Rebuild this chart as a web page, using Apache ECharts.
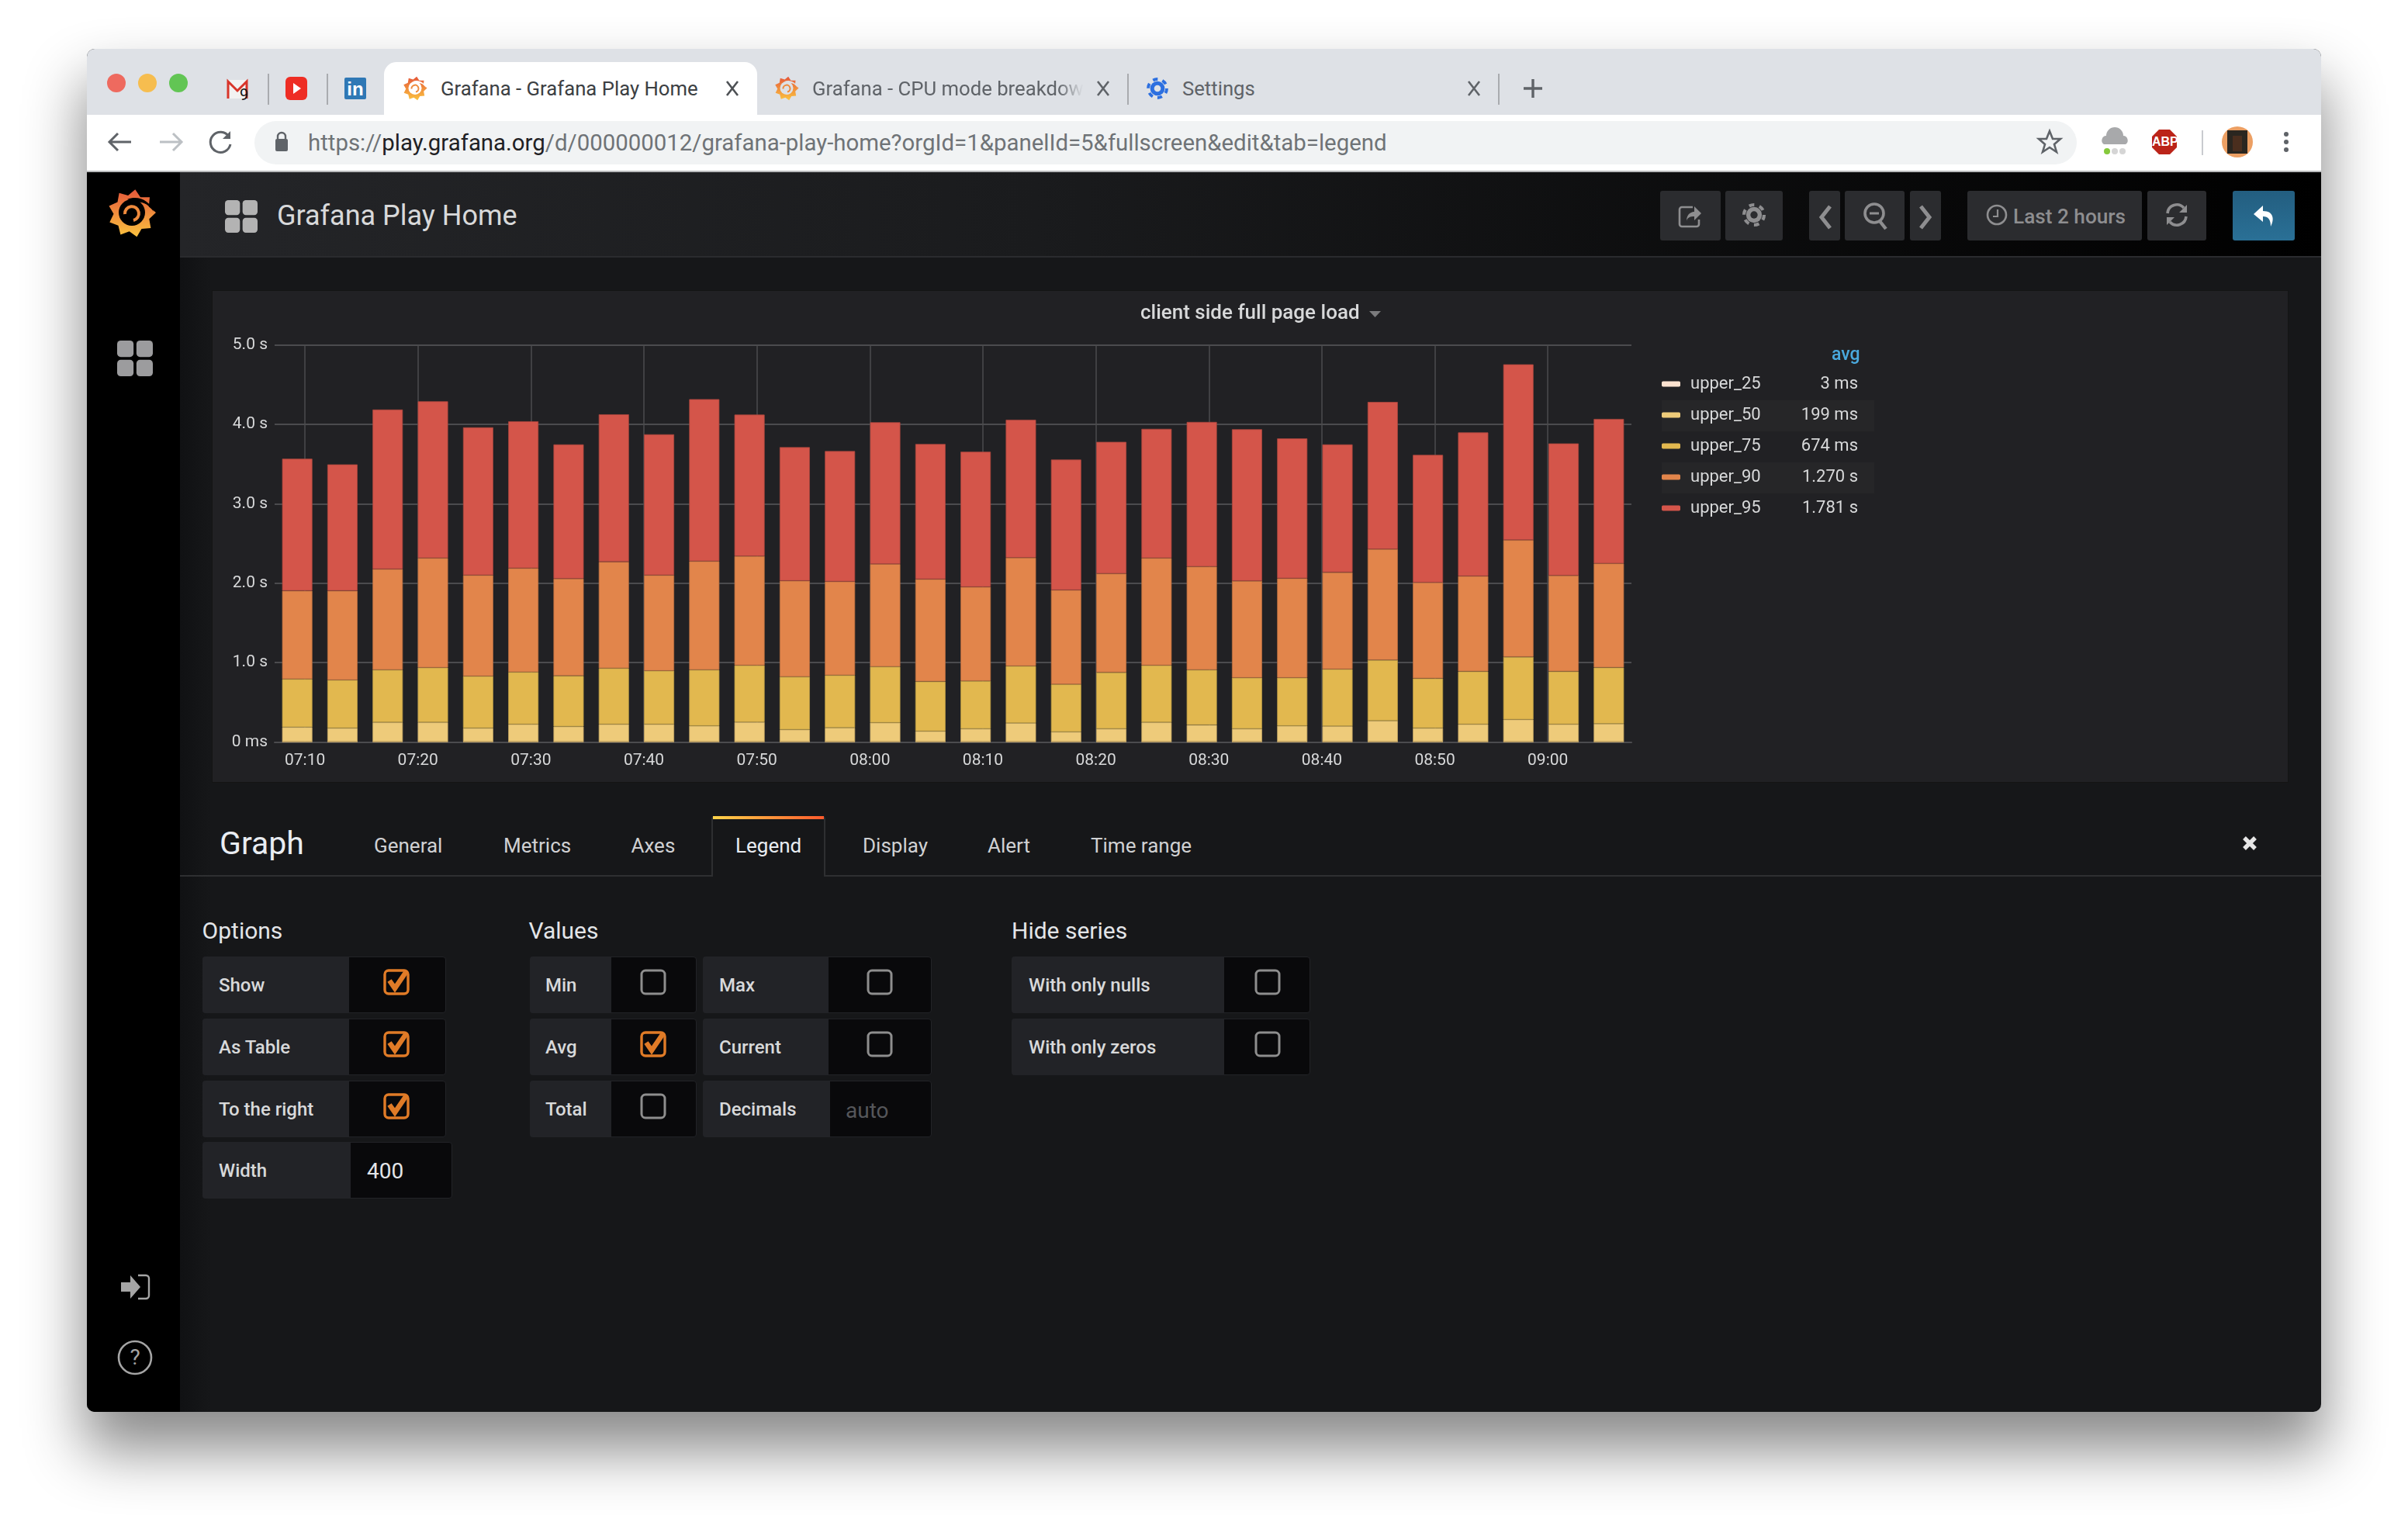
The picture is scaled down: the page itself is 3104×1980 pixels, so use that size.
<!DOCTYPE html>
<html>
<head>
<meta charset="utf-8">
<title>Grafana - Grafana Play Home</title>
<script src="https://cdn.jsdelivr.net/npm/echarts@6/dist/echarts.min.js"></script>
<style>
html,body{margin:0;padding:0;background:#fff;width:3104px;height:1980px;overflow:hidden;}
#page{position:absolute;left:0;top:0;width:3104px;height:1980px;font-family:Roboto,"Noto Sans",sans-serif;}
#page div{box-sizing:border-box;white-space:nowrap;}
svg{display:block;overflow:visible;}
</style>
</head>
<body>
<div id="page"></div>
<script>
// bar slots, one every 4 minutes
var barTimes = ['07:09','07:13','07:17','07:21','07:25','07:29','07:33','07:37','07:41','07:45',
    '07:49','07:53','07:57','08:01','08:05','08:09','08:13','08:17','08:21','08:25',
    '08:29','08:33','08:37','08:41','08:45','08:49','08:53','08:57','09:01','09:05'];
var upper25 = [.003,.003,.004,.004,.003,.003,.003,.003,.004,.003,.003,.003,.003,.003,.003,.003,.004,.003,.003,.003,.003,.003,.003,.003,.003,.003,.003,.003,.003,.003];
var upper50 = [.184,.172,.243,.243,.172,.220,.192,.220,.219,.200,.248,.153,.176,.240,.133,.164,.235,.125,.164,.244,.212,.164,.200,.196,.264,.172,.220,.280,.220,.227];
var upper75 = [.606,.606,.662,.690,.654,.658,.638,.706,.674,.706,.714,.666,.662,.706,.626,.602,.718,.598,.710,.718,.694,.642,.606,.718,.766,.626,.666,.789,.666,.708];
var upper90 = [1.112,1.124,1.268,1.380,1.272,1.308,1.224,1.340,1.204,1.368,1.376,1.208,1.180,1.292,1.288,1.184,1.364,1.188,1.244,1.352,1.300,1.220,1.252,1.220,1.396,1.208,1.200,1.471,1.208,1.311];
var upper95 = [1.663,1.591,2.010,1.974,1.862,1.850,1.691,1.858,1.774,2.041,1.782,1.683,1.643,1.786,1.703,1.703,1.738,1.643,1.659,1.627,1.822,1.910,1.762,1.611,1.854,1.607,1.810,2.213,1.663,1.820];

var seriesNames = ['upper_25','upper_50','upper_75','upper_90','upper_95'];
var seriesAvg = ['3 ms','199 ms','674 ms','1.270 s','1.781 s'];
var seriesColors = ['#fce2d0','#eecb7a','#e2b84f','#e2854b','#d4554a'];
var seriesEdges = ['#c9a86a','#c7a864','#b99a45','#b96f40','#a9463e'];
var xTickLabels = ['07:10','07:20','07:30','07:40','07:50','08:00','08:10','08:20','08:30','08:40','08:50','09:00'];
var yTickLabels = ['0 ms','1.0 s','2.0 s','3.0 s','4.0 s','5.0 s'];

var page = document.getElementById('page');

function add(x,y,w,h,css,html){
    var d = document.createElement('div');
    d.style.cssText = 'position:absolute;left:'+x+'px;top:'+y+'px;width:'+w+'px;height:'+h+'px;'+(css||'');
    if(html){ d.innerHTML = html; }
    page.appendChild(d);
    return d;
}
function text(x,cy,str,size,color,css){
    return add(x,cy-30,1400,60,'line-height:60px;font-size:'+size+'px;color:'+color+';'+(css||''),str);
}
// svg centered on cx,cy, content drawn around 0,0
function icon(cx,cy,body){
    return add(cx,cy,0,0,'','<svg width="1" height="1">'+body+'</svg>');
}
// hh:mm[:ss] to minutes of the day
function minutes(t){
    var p = t.split(':');
    return (+p[0])*60 + (+p[1]) + (p[2] ? (+p[2])/60 : 0);
}

var gradId = 0;
function logo(size,inner){
    var id = 'lg'+(gradId++), pts = [], i, a, r;
    for(i=0;i<18;i++){
        a = (i+.4)/18*Math.PI*2;
        r = i%2==0 ? 31 : 23.5;
        pts.push((Math.sin(a)*r).toFixed(1)+','+(-Math.cos(a)*r).toFixed(1));
    }
    return '<defs><linearGradient id="'+id+'" x1="0" y1="0" x2="0" y2="1"><stop offset="0" stop-color="#e5573a"/><stop offset="1" stop-color="#fbc33f"/></linearGradient></defs>'+
        '<g transform="scale('+(size/60)+')">'+
        '<polygon points="'+pts.join(' ')+'" fill="url(#'+id+')"/>'+
        '<circle cy="-1" r="17" fill="'+inner+'"/>'+
        '<path d="M-6 -18C8 -24 24 -16 28 -2C22 -12 12 -16 4 -14Z" fill="'+inner+'"/>'+
        '<path d="M-9 1A9 9 0 1 1 2 9" fill="none" stroke="#ee8a3c" stroke-width="4"/>'+
        '</g>';
}
function gear(r,c,hole){
    return '<circle r="'+r+'" fill="none" stroke="'+c+'" stroke-width="'+(r*.32)+'" stroke-dasharray="'+(r*.52)+' '+(r*.527)+'"/>'+
        '<circle r="'+(r*.78)+'" fill="'+c+'"/><circle r="'+(r*.36)+'" fill="'+hole+'"/>';
}
function grid4(s,c){
    var g = s*.04, w = s/2-g, r = s*.1;
    return '<rect x="'+(-s/2)+'" y="'+(-s/2)+'" width="'+w+'" height="'+w+'" rx="'+r+'" fill="'+c+'"/>'+
        '<rect x="'+g+'" y="'+(-s/2)+'" width="'+w+'" height="'+w+'" rx="'+r+'" fill="'+c+'"/>'+
        '<rect x="'+(-s/2)+'" y="'+g+'" width="'+w+'" height="'+w+'" rx="'+r+'" fill="'+c+'"/>'+
        '<rect x="'+g+'" y="'+g+'" width="'+w+'" height="'+w+'" rx="'+r+'" fill="'+c+'"/>';
}
function closeX(c){
    return '<path d="M-7 -9L7 9M7 -9L-7 9" stroke="'+c+'" stroke-width="2.6" fill="none"/>';
}

// window frame
add(112,63,2880,1757,'border-radius:10px;background:#161719;box-shadow:0 46px 76px 4px rgba(0,0,0,.46);');
add(112,63,2880,85,'background:#dee1e6;border-radius:10px 10px 0 0;');
add(112,148,2880,74,'background:#fff;border-bottom:2px solid #b8b9bb;');

// traffic lights
add(138,95,24,24,'border-radius:50%;background:#ee6a5f;');
add(178,95,24,24,'border-radius:50%;background:#f6bd4f;');
add(218,95,24,24,'border-radius:50%;background:#62c554;');

// pinned tabs
icon(306,114,'<rect x="-13" y="-11" width="26" height="24" fill="#f2f2f2"/><path d="M-12 13V-9L0 3L12 -9V13" fill="none" stroke="#d8352a" stroke-width="3"/>');
text(309,122,'9',20,'#111');
add(345,95,1.5,40,'background:#a9abaf;');
icon(382,114,'<rect x="-14" y="-15" width="28" height="30" rx="6" fill="#ee2d24"/><path d="M-4 -7L6 0L-4 7Z" fill="#fff"/>');
add(421,95,1.5,40,'background:#a9abaf;');
add(444,100,28,28,'background:#2f78b5;border-radius:2px;color:#fff;font:bold 24px/30px "Liberation Sans";text-align:center;','in');

// tabs
add(495,80,481,68,'background:#fff;border-radius:16px 16px 0 0;');
icon(535,114,logo(30,'#fff'));
text(568,114,'Grafana - Grafana Play Home',25.7,'#3c4043');
icon(944,114,closeX('#4d5054'));
icon(1014,114,logo(30,'#dee1e6'));
add(1047,84,360,60,'line-height:60px;font-size:25.7px;color:#5f6368;-webkit-mask-image:linear-gradient(90deg,#000 88%,transparent 97%);','Grafana - CPU mode breakdow');
icon(1422,114,closeX('#5f6368'));
add(1453,95,1.5,40,'background:#a9abaf;');
icon(1492,114,gear(12,'#2c6fe0','#dee1e6'));
text(1524,114,'Settings',25.7,'#5f6368');
icon(1900,114,closeX('#5f6368'));
add(1931,95,1.5,40,'background:#a9abaf;');
icon(1976,114,'<path d="M-12 0H12M0 -12V12" stroke="#5f6368" stroke-width="3.4"/>');

// address bar
icon(155,183,'<path d="M14 0H-13M-3 -11L-14 0L-3 11" fill="none" stroke="#5f6368" stroke-width="3"/>');
icon(220,183,'<path d="M-14 0H13M3 -11L14 0L3 11" fill="none" stroke="#bcc0c4" stroke-width="3"/>');
icon(284,183,'<path d="M11 -7A13 13 0 1 0 13 3" fill="none" stroke="#5f6368" stroke-width="3"/><path d="M13 -14V-4H3Z" fill="#5f6368"/>');
add(328,156,2349,56,'background:#f1f3f4;border-radius:28px;');
icon(363,184,'<rect x="-8" y="-5" width="16" height="16" rx="2" fill="#5f6368"/><path d="M-5 -5V-8A5 5 0 0 1 5 -8V-5" fill="none" stroke="#5f6368" stroke-width="2.4"/>');
text(397,184,'<span style="color:#6f7377">https://</span>play.grafana.org<span style="color:#6f7377">/d/000000012/grafana-play-home?orgId=1&amp;panelId=5&amp;fullscreen&amp;edit&amp;tab=legend</span>',29.4,'#1f2124');
icon(2642,183,'<path d="M0 -14L4 -4L14 -4L6 3L9 13L0 7L-9 13L-6 3L-14 -4L-4 -4Z" fill="none" stroke="#5f6368" stroke-width="2.6"/>');
icon(2726,176,'<path d="M-14 10A6 6 0 0 1 -11 -1A11 11 0 0 1 11 -1A6 6 0 0 1 14 10Z" fill="#a8a9ab"/><circle cx="-10" cy="19" r="4" fill="#85c93c"/><circle cy="19" r="4" fill="#d5d5d5"/><circle cx="10" cy="19" r="4" fill="#d5d5d5"/>');
icon(2790,183,'<polygon points="-7,-16 7,-16 16,-7 16,7 7,16 -7,16 -16,7 -16,-7" fill="#bb2419"/>');
add(2774,168,32,30,'color:#fff;font:bold 16px/30px "Liberation Sans Narrow","Liberation Sans";text-align:center;','ABP');
add(2838,168,1.5,32,'background:#c9cbcf;');
icon(2884,183,'<ellipse rx="20" ry="20" fill="#ec9f63"/><rect x="-13" y="-15" width="26" height="30" fill="#2a2620"/><rect x="-6" y="-8" width="12" height="20" fill="#4a2e1e"/>');
icon(2947,183,'<circle cy="-10" r="3" fill="#5f6368"/><circle r="3" fill="#5f6368"/><circle cy="10" r="3" fill="#5f6368"/>');

// grafana sidebar and header
add(112,222,120,1598,'background:#000;border-radius:0 0 0 10px;');
add(232,222,2760,110,'background:linear-gradient(90deg,#242528 0%,#1a1b1d 40%,#000 100%);border-bottom:2px solid #2a2b2e;');
add(232,332,40,1488,'background:linear-gradient(90deg,#101113,#161719);');
icon(170,275,logo(60,'#000'));
icon(174,462,grid4(46,'#9c9c9e'));
icon(174,1659,'<path d="M-18 -6H-6V-15L7 0L-6 15V6H-18Z" fill="#a5a5a5"/><path d="M4 -15H14A4 4 0 0 1 18 -11V11A4 4 0 0 1 14 15H4" fill="none" stroke="#a5a5a5" stroke-width="2.4"/>');
icon(174,1750,'<circle r="21" fill="none" stroke="#a5a5a5" stroke-width="2.6"/>');
add(154,1730,40,40,'text-align:center;font-size:28px;line-height:40px;color:#a5a5a5;','?');
icon(311,279,grid4(42,'#b3b3b3'));
text(357,278,'Grafana Play Home',36,'#d8d9da');

// header buttons
var headerBtns = [[2140,78],[2224,74],[2332,40],[2378,77],[2462,40],[2536,225],[2768,76]];
for(var b=0;b<headerBtns.length;b++){
    add(headerBtns[b][0],246,headerBtns[b][1],64,'background:#2b2c2f;border-radius:3px;');
}
add(2878,246,80,64,'background:linear-gradient(180deg,#235e80,#2a7096);border-radius:3px;');
var ic = '#8e8e90';
icon(2178,279,'<path d="M4 -12H-10A3 3 0 0 0 -13 -9V10A3 3 0 0 0 -10 13H9A3 3 0 0 0 12 10V4" fill="none" stroke="'+ic+'" stroke-width="2.6"/><path d="M-4 6C-4 -4 3 -6 6 -6V-13L15 -4L6 5V0C1 0 -3 1 -4 6Z" fill="'+ic+'"/>');
icon(2261,277,gear(13,ic,'#2b2c2f'));
icon(2353,280,'<path d="M6 -14L-5 0L6 14" fill="none" stroke="'+ic+'" stroke-width="5"/>');
icon(2416,277,'<circle cy="-2" r="12" fill="none" stroke="'+ic+'" stroke-width="3.6"/><path d="M-6 -2H6" stroke="'+ic+'" stroke-width="3"/><path d="M7 8L15 18" stroke="'+ic+'" stroke-width="4.4"/>');
icon(2482,280,'<path d="M-6 -14L5 0L-6 14" fill="none" stroke="'+ic+'" stroke-width="5"/>');
icon(2574,277,'<circle r="12" fill="none" stroke="'+ic+'" stroke-width="2.6"/><path d="M1 -7V2H-5" fill="none" stroke="'+ic+'" stroke-width="2.2"/>');
text(2595,279,'Last 2 hours',26.2,'#8e8e90','font-weight:500;');
icon(2806,277,'<path d="M-12 -2A12 12 0 0 1 9 -9M12 2A12 12 0 0 1 -9 9" fill="none" stroke="'+ic+'" stroke-width="3.6"/><path d="M13 -13V-3H3Z M-13 13V3H-3Z" fill="'+ic+'"/>');
icon(2918,278,'<path d="M-1 -13L-13 -2L-1 8V1C6 1 9 5 9 14C14 5 13 -6 -1 -6Z" fill="#fff"/>');

// graph panel
add(273,374,2677,635,'background:#212124;border:1px solid #141414;');
add(2142,516,274,40,'background:#262628;');
add(2142,596,274,40,'background:#262628;');

// editor tabs
text(283,1087,'Graph',41,'#e9edf2');
add(232,1128,2760,2,'background:#2e2f31;');
add(917,1052,147,78,'background:#161719;border:2px solid #2e2f31;border-bottom:none;border-radius:4px 4px 0 0;');
add(919,1052,143,4,'background:linear-gradient(90deg,#ffd44a,#ff5a2c);');
var tabNames = ['General','Metrics','Axes','Legend','Display','Alert','Time range'];
var tabX = [482,649,813.5,948,1112,1273,1406];
for(var t=0;t<tabNames.length;t++){
    text(tabX[t],1090,tabNames[t],26,tabNames[t]=='Legend' ? '#e9edf2' : '#d0d1d3');
}
icon(2900,1087,'<path d="M-7 -7L7 7M7 -7L-7 7" stroke="#e6e6e6" stroke-width="5.4"/>');

text(260.6,1200,'Options',30,'#e3e5e8');
text(681.5,1200,'Values',30,'#e3e5e8');
text(1304,1200,'Hide series',30,'#e3e5e8');

function field(x,y,w,labelW,label,textX){
    add(x,y,w,73,'background:#09090b;border:1px solid #222327;border-radius:4px;');
    add(x,y,labelW,73,'background:#222327;border-radius:4px 0 0 4px;');
    text(textX,y+37,label,24,'#d8d9da','font-weight:500;');
}
function check(cx,cy,on){
    if(on){
        icon(cx,cy,'<rect x="-15" y="-15" width="30" height="30" rx="5" fill="none" stroke="#e07b27" stroke-width="3.4"/><path d="M-9 -2L-2 8L13 -14" fill="none" stroke="#e07b27" stroke-width="6.4"/>');
    }else{
        icon(cx,cy,'<rect x="-15" y="-15" width="30" height="30" rx="5" fill="none" stroke="#8e8e8e" stroke-width="3"/>');
    }
}
var rowY = [1233,1313,1393];
var optionLabels = ['Show','As Table','To the right'];
for(var r1=0;r1<3;r1++){
    field(260.6,rowY[r1],314.4,189.4,optionLabels[r1],282);
    check(511,rowY[r1]+33,true);
}
field(260.6,1472,322,191.4,'Width',282);
text(473,1510,'400',28,'#e3e5e8');

var valueLabels = ['Min','Avg','Total'], valueChecks = [false,true,false];
for(var r2=0;r2<3;r2++){
    field(683,rowY[r2],215,105,valueLabels[r2],703);
    check(842,rowY[r2]+33,valueChecks[r2]);
}
var valueLabels2 = ['Max','Current'];
for(var r3=0;r3<2;r3++){
    field(906,rowY[r3],295,162,valueLabels2[r3],927);
    check(1134,rowY[r3]+33,false);
}
field(906,1393,295,164,'Decimals',927);
text(1090,1432,'auto',28,'#55565a');

var hideLabels = ['With only nulls','With only zeros'];
for(var r4=0;r4<2;r4++){
    field(1304,rowY[r4],384.5,274,hideLabels[r4],1326);
    check(1634,rowY[r4]+33,false);
}

// chart
var chartBox = add(273,374,2675,635,'');
var myChart = echarts.init(chartBox);
var axisColor = '#4b4b4e', labelColor = '#d8d9da';
var seriesData = [upper25,upper50,upper75,upper90,upper95];
var xTicks = xTickLabels.map(minutes);
var series = [];
for(var s=0;s<seriesNames.length;s++){
    series.push({
        name:seriesNames[s],
        type:'bar',
        stack:'total',
        barWidth:39,
        xAxisIndex:0,
        data:seriesData[s],
        itemStyle:{color:seriesColors[s],borderColor:seriesEdges[s],borderWidth:.8},
        silent:true
    });
}
myChart.setOption({
    animation:false,
    backgroundColor:'transparent',
    textStyle:{fontFamily:'Roboto'},
    title:{
        text:'client side full page load',
        left:1192,
        top:12,
        textStyle:{color:labelColor,fontSize:26,fontWeight:500,fontFamily:'Roboto'}
    },
    grid:{left:81,right:845,top:70.7,bottom:52.5},
    xAxis:[
        // bars sit on the 4 minute slots
        {type:'category',show:false,data:barTimes},
        // the clock the ticks are read from
        {
            type:'value',
            position:'bottom',
            min:minutes('07:07:19'),
            max:minutes('09:07:24'),
            axisLine:{show:true,onZero:false,lineStyle:{color:axisColor,width:2}},
            axisTick:{show:false,customValues:xTicks},
            splitLine:{show:true,lineStyle:{color:axisColor,width:1.5}},
            axisLabel:{
                customValues:xTicks,
                margin:14,
                color:labelColor,
                fontSize:21,
                fontFamily:'Roboto',
                formatter:function(v){ return xTickLabels[xTicks.indexOf(v)]; }
            }
        }
    ],
    yAxis:{
        type:'value',
        min:0,
        max:5,
        interval:1,
        axisLine:{show:false},
        axisTick:{show:false},
        splitLine:{show:true,lineStyle:{color:axisColor,width:2}},
        axisLabel:{
            margin:9,
            color:labelColor,
            fontSize:21,
            fontFamily:'Roboto',
            formatter:function(v){ return yTickLabels[v]; }
        }
    },
    legend:{
        orient:'vertical',
        left:1869,
        top:109,
        padding:0,
        itemWidth:24,
        itemHeight:7,
        itemGap:16,
        selectedMode:false,
        icon:'roundRect',
        itemStyle:{borderWidth:0},
        formatter:function(name){
            return '{n|'+name+'}{v|'+seriesAvg[seriesNames.indexOf(name)]+'}';
        },
        textStyle:{
            padding:[0,0,0,8],
            rich:{
                n:{width:100,color:labelColor,fontSize:22,height:24,lineHeight:24,fontFamily:'Roboto'},
                v:{width:116,align:'right',color:labelColor,fontSize:22,height:24,lineHeight:24,fontFamily:'Roboto'}
            }
        }
    },
    graphic:[
        {type:'text',left:2088,top:73,style:{text:'avg',fill:'#4aa9de',font:'500 23px Roboto'}},
        {type:'polygon',shape:{points:[[1492,27],[1507,27],[1499.5,35]]},style:{fill:'#7b7b7d'}}
    ],
    series:series
});
</script>
</body>
</html>
